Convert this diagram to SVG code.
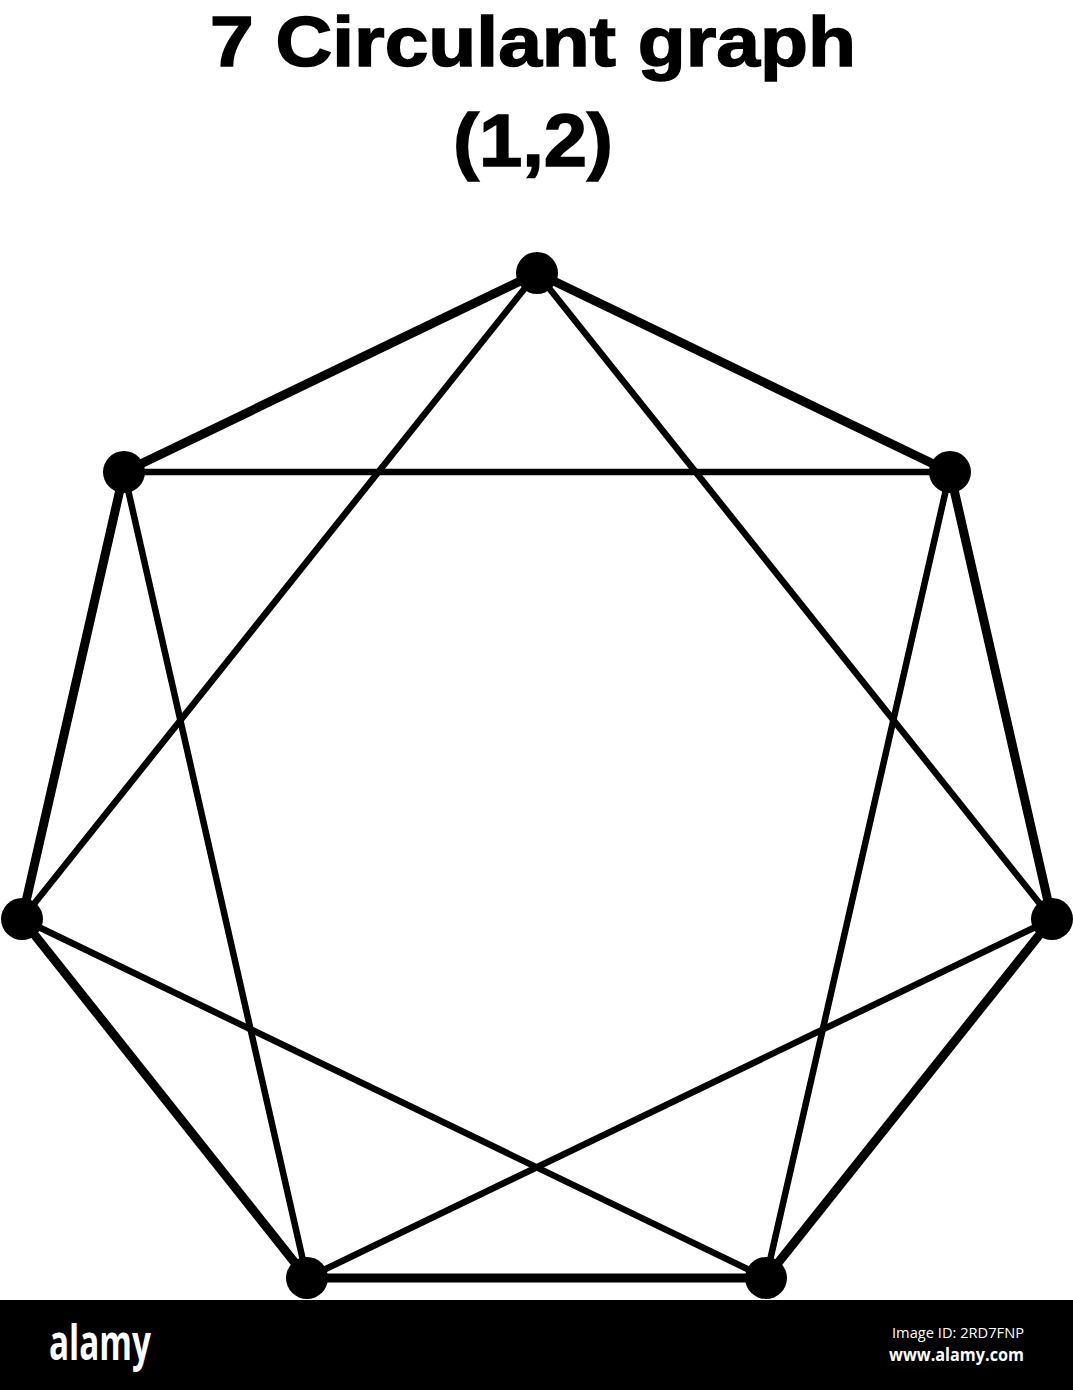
<svg xmlns="http://www.w3.org/2000/svg" width="1073" height="1390" viewBox="0 0 1073 1390">
  <style>
    .outer { stroke: #000; stroke-width: 9; stroke-linecap: round; fill: none; }
    .chord { stroke: #000; stroke-width: 6.5; stroke-linecap: round; fill: none; }
    .node { fill: #000; }
    .title { font-family: "Liberation Sans", Arial, sans-serif; font-weight: bold; fill: #000; stroke: #000; stroke-width: 1.5; text-anchor: middle; }
    .wm { font-family: "Open Sans", "Liberation Sans", sans-serif; fill: #fff; }
  </style>
  <rect width="1073" height="1390" fill="#fff"/>
  <text class="title" x="533" y="66" font-size="71" textLength="646" lengthAdjust="spacingAndGlyphs">7 Circulant graph</text>
  <text class="title" x="533" y="166" font-size="74" textLength="160" lengthAdjust="spacingAndGlyphs">(1,2)</text>
  <g id="connectors">
    <line class="outer" x1="537" y1="273" x2="950" y2="472"/>
    <line class="outer" x1="950" y1="472" x2="1052" y2="919"/>
    <line class="outer" x1="1052" y1="919" x2="766" y2="1278"/>
    <line class="outer" x1="766" y1="1278" x2="307" y2="1278"/>
    <line class="outer" x1="307" y1="1278" x2="22" y2="919"/>
    <line class="outer" x1="22" y1="919" x2="124" y2="472"/>
    <line class="outer" x1="124" y1="472" x2="537" y2="273"/>
    <line class="chord" x1="537" y1="273" x2="1052" y2="919"/>
    <line class="chord" x1="950" y1="472" x2="766" y2="1278"/>
    <line class="chord" x1="1052" y1="919" x2="307" y2="1278"/>
    <line class="chord" x1="766" y1="1278" x2="22" y2="919"/>
    <line class="chord" x1="307" y1="1278" x2="124" y2="472"/>
    <line class="chord" x1="22" y1="919" x2="537" y2="273"/>
    <line class="chord" x1="124" y1="472" x2="950" y2="472"/>
  </g>
  <g id="n0"><circle class="node" cx="537" cy="273" r="21"/></g>
  <g id="n1"><circle class="node" cx="950" cy="472" r="21"/></g>
  <g id="n2"><circle class="node" cx="1052" cy="919" r="21"/></g>
  <g id="n3"><circle class="node" cx="766" cy="1278" r="21"/></g>
  <g id="n4"><circle class="node" cx="307" cy="1278" r="21"/></g>
  <g id="n5"><circle class="node" cx="22" cy="919" r="21"/></g>
  <g id="n6"><circle class="node" cx="124" cy="472" r="21"/></g>
  <g id="banner">
    <rect x="0" y="1300" width="1073" height="90" fill="#000"/>
    <text class="wm" x="49" y="1360" font-size="48" font-weight="bold" textLength="102" lengthAdjust="spacingAndGlyphs">alamy</text>
    <text class="wm" x="1024" y="1338" font-size="15" text-anchor="end" textLength="132" lengthAdjust="spacingAndGlyphs">Image ID: 2RD7FNP</text>
    <text class="wm" x="1024" y="1361" font-size="18" font-weight="bold" text-anchor="end" textLength="135" lengthAdjust="spacingAndGlyphs">www.alamy.com</text>
  </g>
</svg>
